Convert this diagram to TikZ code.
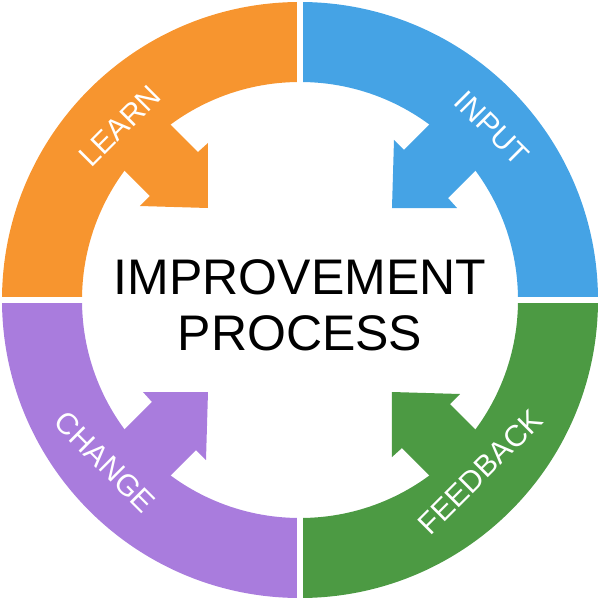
\documentclass[tikz,border=0pt]{standalone}
\usepackage{fontspec}
\setmainfont{Liberation Sans}
\definecolor{corange}{HTML}{F7952F}
\definecolor{cblue}{HTML}{45A3E5}
\definecolor{cgreen}{HTML}{4C9A43}
\definecolor{cpurple}{HTML}{A97CDD}
\begin{document}
\begin{tikzpicture}[x=1pt,y=1pt,
  lbl/.style={text=white,font=\fontsize{30}{30}\selectfont,inner sep=0pt},
  ctr/.style={align=center,font=\fontsize{50}{56}\selectfont,inner sep=0pt}]
\useasboundingbox (-300,-300) rectangle (300,300);
\foreach \c/\r in {corange/0,cblue/-90,cgreen/180,cpurple/90}{
 \begin{scope}[rotate=\r]
  \fill[\c] (90:298) arc (90:180:298) -- (180:218) arc (180:90:218) -- cycle;
  \fill[\c] (-92,92) -- (-92,157) -- (-102,148) -- (-142,188) -- (-190,144) -- (-150,104) -- (-160,94) -- cycle;
 \end{scope}}
\draw[white,line width=6pt] (-300,0) -- (300,0) (0,-300) -- (0,300);
\node[lbl,rotate=45] (learn) at (-180,174) {LEARN};
\node[lbl,rotate=-45] (input) at (192,172) {INPUT};
\node[lbl,rotate=-45] (change) at (-195,-162) {CHANGE};
\node[lbl,rotate=45] (feedback) at (180,-172) {FEEDBACK};
\node[ctr] (title) at (0,-5) {IMPROVEMENT\\PROCESS};
\end{tikzpicture}
\end{document}
